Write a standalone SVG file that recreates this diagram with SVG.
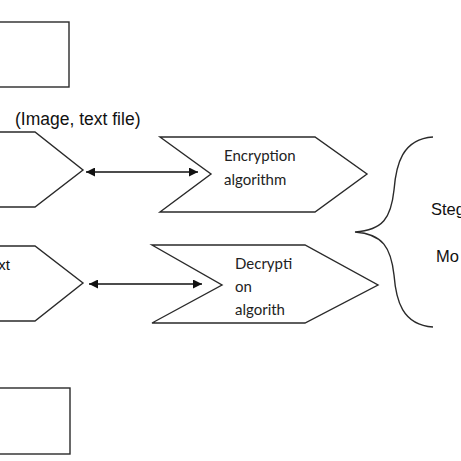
<svg xmlns="http://www.w3.org/2000/svg" width="461" height="461" viewBox="0 0 461 461">
<defs>
<style>
.sh{fill:#fff;stroke:#2a2a2a;stroke-width:1.4;stroke-linejoin:miter}
.ln{fill:none;stroke:#111;stroke-width:1.5}
.br{fill:none;stroke:#2a2a2a;stroke-width:1.4}
.a{font-family:"Liberation Sans",Arial,sans-serif;fill:#111}
.c{font-family:Lato,"Open Sans",sans-serif;fill:#222;font-size:15px}
</style>
<marker id="ah" viewBox="0 0 10 10" refX="10" refY="5" markerWidth="11" markerHeight="9" markerUnits="userSpaceOnUse" orient="auto-start-reverse">
<path d="M0,0 L10,5 L0,10 z" fill="#111"/>
</marker>
</defs>
<rect width="461" height="461" fill="#fff"/>
<g id="box-top"><rect class="sh" x="-5" y="22" width="74" height="65"/></g>
<text class="a" x="15" y="125" font-size="17.5">(Image, text file)</text>
<g id="chev-left-1"><polygon class="sh" points="-5,132 35,132 83,170 35,207 -5,207"/></g>
<g id="chev-enc">
<polygon class="sh" points="160,137 315,137 367,174 315,212 160,212 211,174"/>
<text class="c" x="224" y="161">Encryption</text>
<text class="c" x="224" y="185">algorithm</text>
</g>
<g id="chev-left-2">
<polygon class="sh" points="-5,246 35,246 83,283 35,321 -5,321"/>
<text class="a" x="10" y="270" font-size="15" text-anchor="end">xt</text>
</g>
<g id="chev-dec">
<polygon class="sh" points="152,245 305,245 378,285 305,323 152,323 222,285"/>
<text class="c" x="235" y="269">Decrypti</text>
<text class="c" x="235" y="292">on</text>
<text class="c" x="235" y="315">algorith</text>
</g>
<g id="box-bottom"><rect class="sh" x="-5" y="388" width="75" height="66"/></g>
<g id="brace">
<path class="br" d="M433,137 C402,139 396,165 394,190 C391,218 383,230 355,232 C383,234 391,248 394,275 C396,300 402,325 433,327"/>
<text class="a" x="431" y="215" font-size="16.5">Steg</text>
<text class="a" x="436" y="262" font-size="16.5">Mo</text>
</g>
<g id="connectors">
<line class="ln" x1="86" y1="172" x2="198" y2="172" marker-start="url(#ah)" marker-end="url(#ah)"/>
<line class="ln" x1="89" y1="284" x2="202" y2="284" marker-start="url(#ah)" marker-end="url(#ah)"/>
</g>
</svg>
